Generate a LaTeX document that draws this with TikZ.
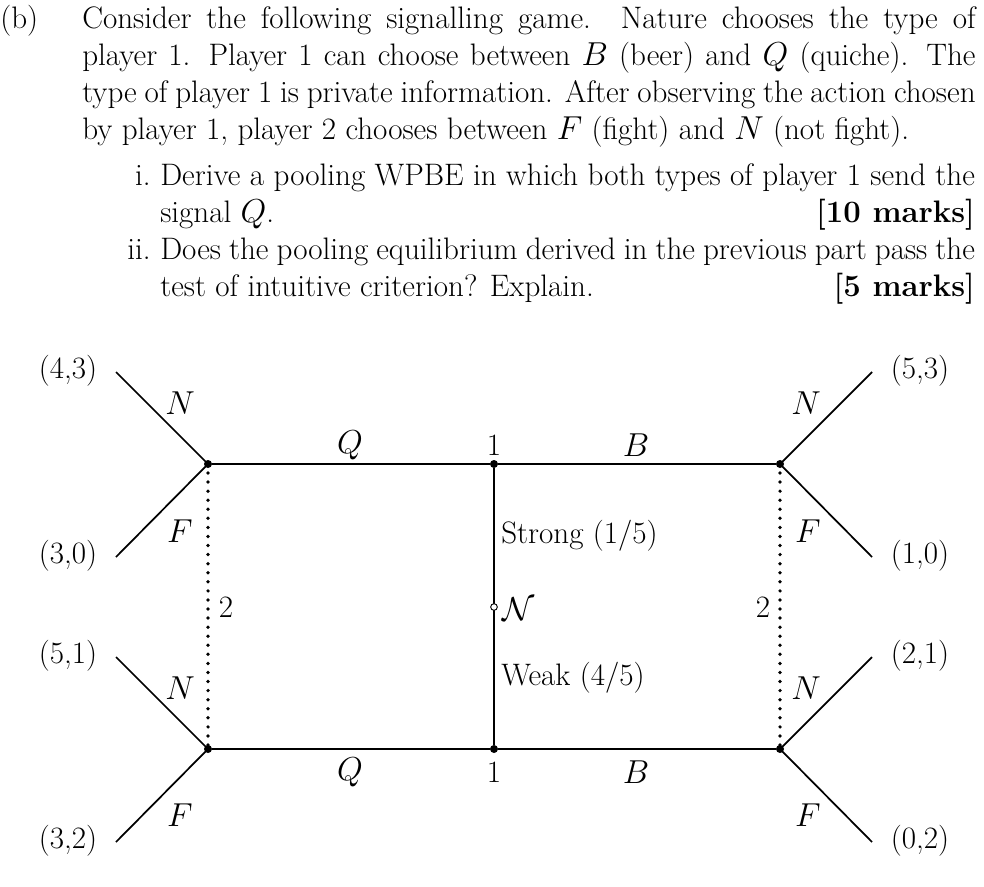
\documentclass[tikz,border=0pt]{standalone}
\usepackage{amssymb}
\begin{document}
\begin{tikzpicture}[x=0.75pt,y=-0.75pt,
  every node/.style={font=\fontsize{23.3}{27.75}\selectfont, inner sep=0pt},
  dec/.style={circle,fill=black,minimum size=6pt,inner sep=0pt},
  nat/.style={circle,draw=black,fill=white,minimum size=5pt,inner sep=0pt,line width=0.7pt},
  br/.style={line width=1.3pt},
  info/.style={line width=2.8pt,line cap=round,dash pattern=on 0pt off 6.8pt},
  txt/.style={anchor=base west}]
\useasboundingbox (0,0) rectangle (984,886);
% text
\node[txt] (b) at (0,28) {(b)};
\node[txt] (l1) at (82,28) {\hbox to 670pt{Consider the following signalling game.\ \ Nature chooses the type of}};
\node[txt] (l2) at (82,65) {\hbox to 670pt{player 1. Player 1 can choose between $B$ (beer) and $Q$ (quiche). The}};
\node[txt] (l3) at (82,102) {\hbox to 670pt{type of player 1 is private information. After observing the action chosen}};
\node[txt] (l4) at (82,139) {by player 1, player 2 chooses between $F$ (fight) and $N$ (not fight).};
\node[anchor=base east] (i1) at (151,185) {i.};
\node[txt] (i1a) at (160,185) {\hbox to 611pt{Derive a pooling WPBE in which both types of player 1 send the}};
\node[txt] (i1b) at (160,222) {\hbox to 611pt{signal $Q$.\hfill\textbf{[10 marks]}}};
\node[anchor=base east] (i2) at (151,259) {ii.};
\node[txt] (i2a) at (160,259) {\hbox to 611pt{Does the pooling equilibrium derived in the previous part pass the}};
\node[txt] (i2b) at (160,296) {\hbox to 611pt{test of intuitive criterion? Explain.\hfill\textbf{[5 marks]}}};
% game tree
\node[dec] (TL) at (208,464) {};
\node[dec] (TM) at (494,464) {};
\node[dec] (TR) at (780,464) {};
\node[dec] (BL) at (208,749) {};
\node[dec] (BM) at (494,749) {};
\node[dec] (BR) at (780,749) {};
\coordinate (a1) at (116,372); \coordinate (a2) at (116,557);
\coordinate (a3) at (116,657); \coordinate (a4) at (116,842);
\coordinate (b1) at (872,372); \coordinate (b2) at (872,557);
\coordinate (b3) at (872,657); \coordinate (b4) at (872,842);
\draw[br] (TL) -- (TM) -- (TR);
\draw[br] (BL) -- (BM) -- (BR);
\draw[br] (TM) -- (BM);
\draw[info] (208,473) -- (208,745);
\draw[info] (780,473) -- (780,745);
\draw[br] (TL.center) -- (a1); \draw[br] (TL.center) -- (a2);
\draw[br] (BL.center) -- (a3); \draw[br] (BL.center) -- (a4);
\draw[br] (TR.center) -- (b1); \draw[br] (TR.center) -- (b2);
\draw[br] (BR.center) -- (b3); \draw[br] (BR.center) -- (b4);
\node[nat] (Nat) at (494,607) {};
% labels
\node (p1) at (68,371) {(4,3)};
\node (p2) at (68,556) {(3,0)};
\node (p3) at (68,656) {(5,1)};
\node (p4) at (68,841) {(3,2)};
\node (q1) at (920,371) {(5,3)};
\node (q2) at (920,556) {(1,0)};
\node (q3) at (920,656) {(2,1)};
\node (q4) at (920,841) {(0,2)};
\node (n1) at (180,403) {$N$};
\node (f1) at (180,531) {$F$};
\node (n2) at (180,688) {$N$};
\node (f2) at (180,815) {$F$};
\node (n3) at (806,403) {$N$};
\node (f3) at (808,531) {$F$};
\node (n4) at (806,688) {$N$};
\node (f4) at (808,815) {$F$};
\node (qt) at (350,445) {$Q$};
\node (ot) at (494,445) {1};
\node (bt) at (636,445) {$B$};
\node (qb) at (350,772) {$Q$};
\node (ob) at (494,772) {1};
\node (bb) at (636,772) {$B$};
\node (tw1) at (226,607) {2};
\node (tw2) at (763,607) {2};
\node[anchor=west] (st) at (501,536) {Strong (1/5)};
\node[anchor=west] (nn) at (502,609) {$\mathcal{N}$};
\node[anchor=west] (wk) at (501,678) {Weak (4/5)};
\end{tikzpicture}
\end{document}
